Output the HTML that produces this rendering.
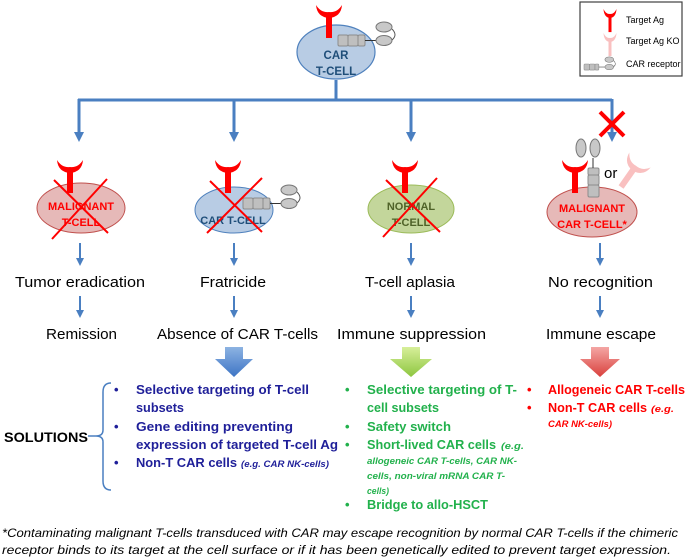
<!DOCTYPE html>
<html><head><meta charset="utf-8"><style>
html,body{margin:0;padding:0;background:#fff;}
svg{display:block;}
text{font-family:"Liberation Sans",sans-serif;}
</style></head><body>
<svg width="685" height="558" viewBox="0 0 685 558" xmlns="http://www.w3.org/2000/svg">
<defs>
<marker id="ah" markerWidth="10" markerHeight="10" refX="5" refY="5" orient="auto" markerUnits="userSpaceOnUse"><path d="M0,0 L10,5 L0,10 z" fill="#4a7fc1"/></marker>
<marker id="ah2" markerWidth="8" markerHeight="8" refX="4" refY="4" orient="auto" markerUnits="userSpaceOnUse"><path d="M0,0 L8,4 L0,8 z" fill="#4a7fc1"/></marker>
<g id="y"><path d="M-13,0 Q-12,12 0,13 Q12,12 13,0 Q8,8 0,7 Q-8,8 -13,0z"/><rect x="-3" y="11" width="6" height="22"/></g>
<g id="rec"><rect x="0" y="0" width="10" height="11" rx="1.5" fill="#bfbfbf" stroke="#8c8c8c"/><rect x="10" y="0" width="10" height="11" rx="1.5" fill="#bfbfbf" stroke="#8c8c8c"/><rect x="20" y="0" width="7" height="11" rx="1.5" fill="#bfbfbf" stroke="#8c8c8c"/><line x1="27" y1="5.5" x2="38" y2="5.5" stroke="#333"/><ellipse cx="46" cy="5.5" rx="8" ry="5" fill="#c8c8c8" stroke="#777"/><ellipse cx="46" cy="-8" rx="8" ry="5" fill="#c8c8c8" stroke="#777"/><path d="M54,-6 Q60,0 54,5" fill="none" stroke="#555"/></g>
</defs>

<ellipse cx="336" cy="52" rx="39" ry="27" fill="#b8cce4" stroke="#4f81bd" stroke-width="1.2"/>
<use href="#y" x="329" y="5" fill="#ff0000"/>
<use href="#rec" x="338" y="35"/>
<text x="336" y="59" font-size="11.5" font-weight="bold" fill="#1f4e79" text-anchor="middle">CAR</text>
<text x="336" y="75" font-size="11.5" font-weight="bold" fill="#1f4e79" text-anchor="middle">T-CELL</text>

<g stroke="#4a7fc1" stroke-width="3" fill="none">
<line x1="336" y1="80" x2="336" y2="100"/>
<line x1="78" y1="100" x2="612" y2="100"/>
<line x1="79" y1="99" x2="79" y2="137" marker-end="url(#ah)"/>
<line x1="234" y1="99" x2="234" y2="137" marker-end="url(#ah)"/>
<line x1="411" y1="99" x2="411" y2="137" marker-end="url(#ah)"/>
<line x1="612" y1="99" x2="612" y2="137" marker-end="url(#ah)"/>
</g>
<g stroke="#ff0000" stroke-width="4"><line x1="600" y1="112" x2="624" y2="136"/><line x1="624" y1="112" x2="600" y2="136"/></g>

<ellipse cx="81" cy="208" rx="44" ry="25" fill="#e6b9b8" stroke="#c0504d" stroke-width="1"/>
<use href="#y" x="70" y="160" fill="#ff0000"/>
<text x="81" y="210" font-size="11" font-weight="bold" fill="#ff0000" text-anchor="middle">MALIGNANT</text>
<text x="81" y="226" font-size="11" font-weight="bold" fill="#ff0000" text-anchor="middle">T-CELL</text>
<g stroke="#ff0000" stroke-width="2"><line x1="52" y1="239" x2="107" y2="179"/><line x1="54" y1="180" x2="108" y2="233"/></g>

<ellipse cx="234" cy="210" rx="39" ry="23" fill="#b8cce4" stroke="#4f81bd" stroke-width="1"/>
<use href="#y" x="228" y="160" fill="#ff0000"/>
<use href="#rec" x="243" y="198"/>
<text x="233" y="224" font-size="11" font-weight="bold" fill="#1f4e79" text-anchor="middle">CAR T-CELL</text>
<g stroke="#ff0000" stroke-width="2"><line x1="207" y1="233" x2="262" y2="178"/><line x1="210" y1="181" x2="262" y2="232"/></g>

<ellipse cx="411" cy="209" rx="43" ry="24" fill="#c3d69b" stroke="#9bbb59" stroke-width="1"/>
<use href="#y" x="405" y="160" fill="#ff0000"/>
<text x="411" y="210" font-size="11" font-weight="bold" fill="#4f6228" text-anchor="middle">NORMAL</text>
<text x="411" y="226" font-size="11" font-weight="bold" fill="#4f6228" text-anchor="middle">T-CELL</text>
<g stroke="#ff0000" stroke-width="2"><line x1="383" y1="237" x2="437" y2="178"/><line x1="386" y1="180" x2="440" y2="232"/></g>

<ellipse cx="592" cy="212" rx="45" ry="25" fill="#e6b9b8" stroke="#c0504d" stroke-width="1"/>
<use href="#y" x="575" y="160" fill="#ff0000"/>
<g fill="#bfbfbf" stroke="#8c8c8c"><rect x="588" y="168" width="11" height="7" rx="1.5"/><rect x="588" y="175" width="11" height="10" rx="1.5"/><rect x="588" y="185" width="11" height="12" rx="1.5"/></g>
<line x1="593" y1="168" x2="593" y2="158" stroke="#333"/>
<ellipse cx="581" cy="148" rx="5" ry="9" fill="#c8c8c8" stroke="#777"/>
<ellipse cx="595" cy="148" rx="5" ry="9" fill="#c8c8c8" stroke="#777"/>
<text x="604" y="178" font-size="15" fill="#000">or</text>
<use href="#y" x="0" y="0" fill="#f9c0c0" transform="translate(640,160) rotate(35)"/>
<text x="592" y="212" font-size="11" font-weight="bold" fill="#ff0000" text-anchor="middle">MALIGNANT</text>
<text x="592" y="228" font-size="11" font-weight="bold" fill="#ff0000" text-anchor="middle">CAR T-CELL*</text>

<g stroke="#4a7fc1" stroke-width="2" fill="none">
<line x1="80" y1="243" x2="80" y2="262" marker-end="url(#ah2)"/>
<line x1="234" y1="243" x2="234" y2="262" marker-end="url(#ah2)"/>
<line x1="411" y1="243" x2="411" y2="262" marker-end="url(#ah2)"/>
<line x1="600" y1="243" x2="600" y2="262" marker-end="url(#ah2)"/>
<line x1="80" y1="296" x2="80" y2="314" marker-end="url(#ah2)"/>
<line x1="234" y1="296" x2="234" y2="314" marker-end="url(#ah2)"/>
<line x1="411" y1="296" x2="411" y2="314" marker-end="url(#ah2)"/>
<line x1="600" y1="296" x2="600" y2="314" marker-end="url(#ah2)"/>
</g>
<g font-size="15" fill="#000">
<text x="15" y="287" textLength="130" lengthAdjust="spacingAndGlyphs">Tumor eradication</text>
<text x="200" y="287" textLength="66" lengthAdjust="spacingAndGlyphs">Fratricide</text>
<text x="365" y="287" textLength="90" lengthAdjust="spacingAndGlyphs">T-cell aplasia</text>
<text x="548" y="287" textLength="105" lengthAdjust="spacingAndGlyphs">No recognition</text>
<text x="46" y="339" textLength="71" lengthAdjust="spacingAndGlyphs">Remission</text>
<text x="157" y="339" textLength="161" lengthAdjust="spacingAndGlyphs">Absence of CAR T-cells</text>
<text x="337" y="339" textLength="149" lengthAdjust="spacingAndGlyphs">Immune suppression</text>
<text x="546" y="339" textLength="110" lengthAdjust="spacingAndGlyphs">Immune escape</text>
</g>

<defs>
<linearGradient id="gb" x1="0" y1="0" x2="0" y2="1"><stop offset="0" stop-color="#8db3e2"/><stop offset="1" stop-color="#3d74c5"/></linearGradient>
<linearGradient id="gg" x1="0" y1="0" x2="0" y2="1"><stop offset="0" stop-color="#d7ef9a"/><stop offset="1" stop-color="#8dc63f"/></linearGradient>
<linearGradient id="gr" x1="0" y1="0" x2="0" y2="1"><stop offset="0" stop-color="#f4a6a4"/><stop offset="1" stop-color="#d9403c"/></linearGradient>
</defs>
<path d="M225,347 h18 v12 h10 l-19,18 l-19,-18 h10z" fill="url(#gb)"/>
<path d="M402,347 h18 v12 h12 l-21,18 l-21,-18 h12z" fill="url(#gg)"/>
<path d="M591,347 h18 v12 h11 l-20,18 l-20,-18 h11z" fill="url(#gr)"/>

<text x="4" y="442" font-size="14" font-weight="bold" fill="#000" textLength="84" lengthAdjust="spacingAndGlyphs">SOLUTIONS</text>
<path d="M111,383 Q103,383 103,392 L103,430 Q103,436 96,436 Q103,436 103,442 L103,481 Q103,490 111,490" fill="none" stroke="#4a7fc1" stroke-width="1.5"/>
<line x1="88" y1="436" x2="96" y2="436" stroke="#4a7fc1" stroke-width="1.5"/>

<g font-size="13" font-weight="bold" fill="#1f1f99">
<text x="114" y="394">•</text><text x="114" y="431">•</text><text x="114" y="467">•</text>
<text x="136" y="394" textLength="173" lengthAdjust="spacingAndGlyphs">Selective targeting of T-cell</text>
<text x="136" y="412" textLength="48" lengthAdjust="spacingAndGlyphs">subsets</text>
<text x="136" y="431" textLength="157" lengthAdjust="spacingAndGlyphs">Gene editing preventing</text>
<text x="136" y="449" textLength="202" lengthAdjust="spacingAndGlyphs">expression of targeted T-cell Ag</text>
<text x="136" y="467" textLength="101" lengthAdjust="spacingAndGlyphs">Non-T CAR cells</text>
<text x="241" y="467" font-size="9" font-style="italic" textLength="88" lengthAdjust="spacingAndGlyphs">(e.g. CAR NK-cells)</text>
</g>

<g font-size="13" font-weight="bold" fill="#22b14c">
<text x="345" y="394">•</text><text x="345" y="431">•</text><text x="345" y="449">•</text><text x="345" y="509">•</text>
<text x="367" y="394" textLength="150" lengthAdjust="spacingAndGlyphs">Selective targeting of T-</text>
<text x="367" y="412" textLength="72" lengthAdjust="spacingAndGlyphs">cell subsets</text>
<text x="367" y="431" textLength="84" lengthAdjust="spacingAndGlyphs">Safety switch</text>
<text x="367" y="449" textLength="129" lengthAdjust="spacingAndGlyphs">Short-lived CAR cells</text>
<text x="501" y="449" font-size="9" font-style="italic" textLength="23" lengthAdjust="spacingAndGlyphs">(e.g.</text>
<g font-size="9" font-style="italic">
<text x="367" y="464" textLength="150" lengthAdjust="spacingAndGlyphs">allogeneic CAR T-cells, CAR NK-</text>
<text x="367" y="479" textLength="138" lengthAdjust="spacingAndGlyphs">cells, non-viral mRNA CAR T-</text>
<text x="367" y="494" textLength="22" lengthAdjust="spacingAndGlyphs">cells)</text>
</g>
<text x="367" y="509" textLength="121" lengthAdjust="spacingAndGlyphs">Bridge to allo-HSCT</text>
</g>

<g font-size="13" font-weight="bold" fill="#ff0000">
<text x="527" y="394">•</text><text x="527" y="412">•</text>
<text x="548" y="394" textLength="137" lengthAdjust="spacingAndGlyphs">Allogeneic CAR T-cells</text>
<text x="548" y="412" textLength="99" lengthAdjust="spacingAndGlyphs">Non-T CAR cells</text>
<text x="651" y="412" font-size="9" font-style="italic" textLength="23" lengthAdjust="spacingAndGlyphs">(e.g.</text>
<text x="548" y="427" font-size="9" font-style="italic" textLength="64" lengthAdjust="spacingAndGlyphs">CAR NK-cells)</text>
</g>

<g font-size="12" font-style="italic" fill="#000">
<text x="2" y="537" textLength="676" lengthAdjust="spacingAndGlyphs">*Contaminating malignant T-cells transduced with CAR may escape recognition by normal CAR T-cells if the chimeric</text>
<text x="2" y="554" textLength="669" lengthAdjust="spacingAndGlyphs">receptor binds to its target at the cell surface or if it has been genetically edited to prevent target expression.</text>
</g>

<rect x="580" y="2" width="102" height="74" fill="#fff" stroke="#404040" stroke-width="1.2"/>
<use href="#y" fill="#ff0000" transform="translate(610,9) scale(0.5,0.7)"/>
<text x="626" y="23" font-size="9" fill="#000">Target Ag</text>
<use href="#y" fill="#f9c0c0" transform="translate(610,33) scale(0.5,0.7)"/>
<text x="626" y="44" font-size="9" fill="#000">Target Ag KO</text>
<g transform="translate(584,64) scale(0.55)"><use href="#rec" x="0" y="0"/></g>
<text x="626" y="67" font-size="9" fill="#000">CAR receptor</text>
</svg>
</body></html>
